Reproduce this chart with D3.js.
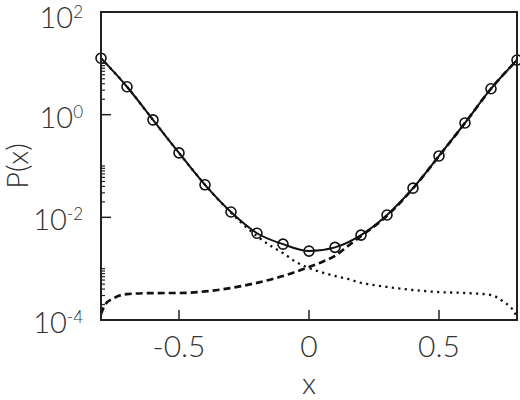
<!DOCTYPE html>
<html>
<head>
<meta charset="utf-8">
<script src="https://cdn.jsdelivr.net/npm/d3@7"></script>
<style>
  body { margin: 0; background: #fff; }
  text { font-family: Lato, "Open Sans", sans-serif; font-weight: 300; fill: #333; }
</style>
</head>
<body>
<svg id="chart" width="520" height="400"></svg>
<script>
// values
var xPoints = [-0.8, -0.7, -0.6, -0.5, -0.4, -0.3, -0.2, -0.1, 0, 0.1, 0.2, 0.3, 0.4, 0.5, 0.6, 0.7, 0.8];
var totalP = [12.6, 3.5, 0.79, 0.18, 0.043, 0.0127, 0.0049, 0.0030, 0.0022, 0.0026, 0.0045, 0.0111, 0.037, 0.157, 0.69, 3.2, 11.6];

var xDashed = [-0.8, -0.785, -0.75, -0.7, -0.6, -0.5, -0.4, -0.3, -0.2, -0.1, 0, 0.05, 0.1, 0.15, 0.2, 0.3, 0.4, 0.5, 0.6, 0.7, 0.8];
var yDashed = [1.3e-4, 1.96e-4, 2.68e-4, 3.2e-4, 3.35e-4, 3.36e-4, 3.6e-4, 4.2e-4, 5.3e-4, 7.2e-4, 1.08e-3, 1.35e-3, 1.77e-3, 2.77e-3, 4.3e-3, 0.0107, 0.0366, 0.156, 0.69, 3.2, 11.6];

var xDotted = [-0.8, -0.7, -0.6, -0.5, -0.4, -0.3, -0.2, -0.14, -0.1, -0.05, 0, 0.07, 0.1, 0.15, 0.2, 0.25, 0.3, 0.4, 0.5, 0.6, 0.7, 0.75, 0.775, 0.79, 0.8];
var yDotted = [12.6, 3.5, 0.79, 0.18, 0.043, 0.0123, 0.0043, 2.64e-3, 2.02e-3, 1.35e-3, 1.03e-3, 7.9e-4, 7.2e-4, 6.3e-4, 5.3e-4, 4.8e-4, 4.4e-4, 3.84e-4, 3.5e-4, 3.36e-4, 3.07e-4, 2.24e-4, 1.79e-4, 1.43e-4, 1.1e-4];

var xTicks = [-0.5, 0, 0.5];
var xTickLabels = ["-0.5", "0", "0.5"];
var yExponents = [-4, -2, 0, 2];

var margin = {top: 12, right: 3, bottom: 80, left: 101},
    width = 520, height = 400,
    svg = d3.select("#chart");

var x = d3.scaleLinear().domain([-0.8, 0.8]).range([margin.left, width - margin.right]);
var y = d3.scaleLog().domain([1e-4, 1e2]).range([height - margin.bottom, margin.top]);

function zip(a, b) { return a.map(function(d, i) { return [d, b[i]]; }); }

var line = d3.line()
  .x(function(d) { return x(d[0]); })
  .y(function(d) { return y(d[1]); })
  .curve(d3.curveMonotoneX);

// dotted and dashed components
svg.append("path").datum(zip(xDotted, yDotted))
  .attr("d", line).attr("fill", "none").attr("stroke", "#111")
  .attr("stroke-width", 2.3).attr("stroke-dasharray", "2.2,4.3");

svg.append("path").datum(zip(xDashed, yDashed))
  .attr("d", line).attr("fill", "none").attr("stroke", "#111")
  .attr("stroke-width", 2.7).attr("stroke-dasharray", "7,4");

// total
svg.append("path").datum(zip(xPoints, totalP))
  .attr("d", line).attr("fill", "none").attr("stroke", "#111").attr("stroke-width", 2);

svg.selectAll("circle.pt").data(zip(xPoints, totalP)).enter().append("circle")
  .attr("class", "pt")
  .attr("cx", function(d) { return x(d[0]); })
  .attr("cy", function(d) { return y(d[1]); })
  .attr("r", 5).attr("fill", "none").attr("stroke", "#111").attr("stroke-width", 1.6);

// frame
var x0 = x.range()[0], x1 = x.range()[1], y0 = y.range()[0], y1 = y.range()[1];
svg.append("rect").attr("x", x0).attr("y", y1).attr("width", x1 - x0).attr("height", y0 - y1)
  .attr("fill", "none").attr("stroke", "#222").attr("stroke-width", 2);

// x ticks (inward)
svg.selectAll("line.xt").data(xTicks).enter().append("line")
  .attr("x1", function(d) { return x(d); }).attr("x2", function(d) { return x(d); })
  .attr("y1", y0).attr("y2", y0 - 10).attr("stroke", "#222").attr("stroke-width", 1.5);

svg.selectAll("text.xl").data(xTicks).enter().append("text")
  .attr("x", function(d) { return x(d); }).attr("y", y0 + 37)
  .attr("text-anchor", "middle").attr("font-size", 30)
  .text(function(d, i) { return xTickLabels[i]; });

// y major ticks
svg.selectAll("line.yt").data(yExponents).enter().append("line")
  .attr("x1", x0).attr("x2", x0 + 10)
  .attr("y1", function(d) { return y(Math.pow(10, d)); })
  .attr("y2", function(d) { return y(Math.pow(10, d)); })
  .attr("stroke", "#222").attr("stroke-width", 1.5);

// y minor ticks, only in the labelled decades
var minor = [];
yExponents.slice(0, 3).forEach(function(e) {
  for (var k = 2; k <= 10; k++) minor.push(k * Math.pow(10, e));
});
svg.selectAll("line.ym").data(minor).enter().append("line")
  .attr("x1", x0).attr("x2", x0 + 4)
  .attr("y1", function(d) { return y(d); }).attr("y2", function(d) { return y(d); })
  .attr("stroke", "#222").attr("stroke-width", 1.2);

// top label sits lower so it stays inside the picture
var yl = svg.selectAll("text.yl").data(yExponents).enter().append("text")
  .attr("x", 83).attr("y", function(d) { return Math.max(y(Math.pow(10, d)) + 13, 28); })
  .attr("text-anchor", "end").attr("font-size", 29);
yl.append("tspan").text("10");
yl.append("tspan").attr("dy", -10).attr("font-size", 17).text(function(d) { return d; });

// axis titles
svg.append("text").attr("x", x(0)).attr("y", 394)
  .attr("text-anchor", "middle").attr("font-size", 30).text("x");

svg.append("text").attr("transform", "translate(28," + ((y0 + y1) / 2) + ") rotate(-90)")
  .attr("text-anchor", "middle").attr("font-size", 29).text("P(x)");
</script>
</body>
</html>
